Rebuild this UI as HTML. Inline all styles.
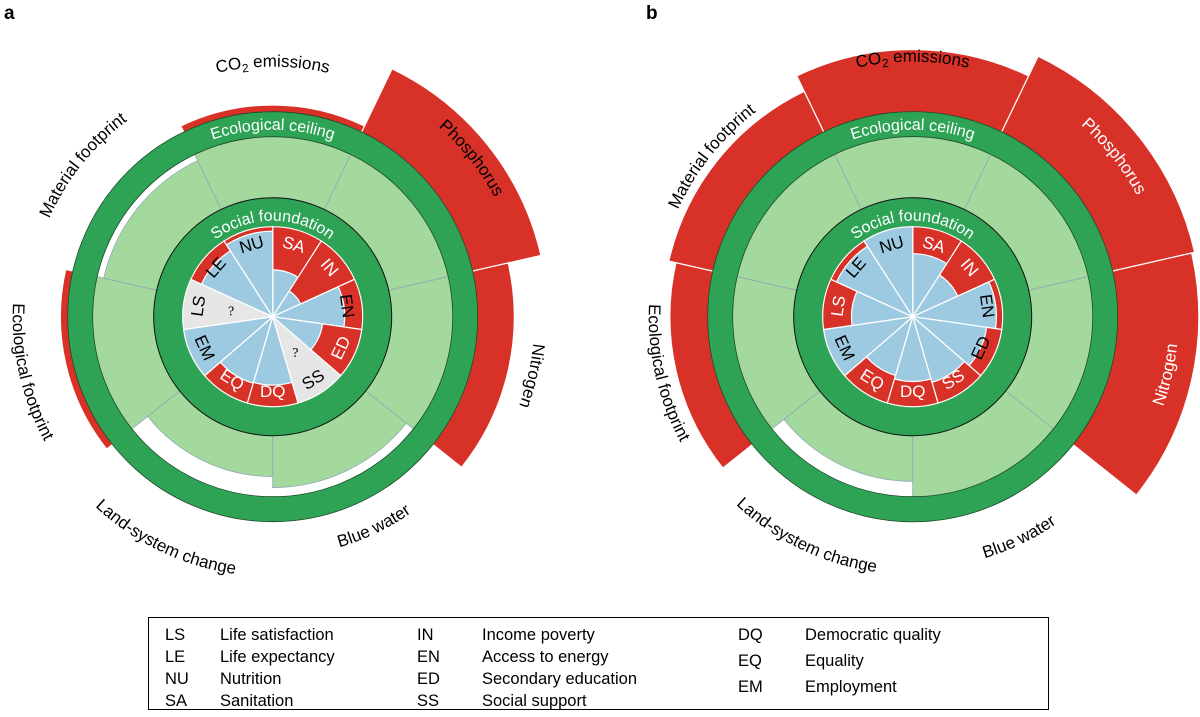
<!DOCTYPE html>
<html><head><meta charset="utf-8">
<style>
body{margin:0;background:#fff;}
svg{display:block;font-family:"Liberation Sans",Arial,sans-serif;}
</style></head>
<body>
<svg id="chart" width="1200" height="717" viewBox="0 0 1200 717" xmlns="http://www.w3.org/2000/svg">
<defs id="defs"></defs>
<text x="4" y="19" font-size="19" font-weight="bold">a</text>
<text x="646" y="19" font-size="19" font-weight="bold">b</text>
<g id="pa"></g>
<g id="pb"></g>
<g font-size="16.5">
<rect x="148.5" y="617.5" width="900" height="92" fill="#fff" stroke="#000" stroke-width="1"/>
<g><text x="165" y="640">LS</text><text x="220" y="640">Life satisfaction</text></g>
<g><text x="165" y="662">LE</text><text x="220" y="662">Life expectancy</text></g>
<g><text x="165" y="684">NU</text><text x="220" y="684">Nutrition</text></g>
<g><text x="165" y="706">SA</text><text x="220" y="706">Sanitation</text></g>
<g><text x="417" y="640">IN</text><text x="482" y="640">Income poverty</text></g>
<g><text x="417" y="662">EN</text><text x="482" y="662">Access to energy</text></g>
<g><text x="417" y="684">ED</text><text x="482" y="684">Secondary education</text></g>
<g><text x="417" y="706">SS</text><text x="482" y="706">Social support</text></g>
<g><text x="738" y="640">DQ</text><text x="805" y="640">Democratic quality</text></g>
<g><text x="738" y="666">EQ</text><text x="805" y="666">Equality</text></g>
<g><text x="738" y="692">EM</text><text x="805" y="692">Employment</text></g>
</g>
</svg>
<script>
// Social indicator categories (clockwise from top)
const socCats = ["SA","IN","EN","ED","SS","DQ","EQ","EM","LS","LE","NU"];
// Achievement relative to social foundation (1 = met, null = no data)
const socA = [0.52,0.34,0.80,0.56,null,0.76,0.77,1.0,null,0.87,0.95];
const socB = [0.70,0.55,0.93,0.83,0.76,0.72,0.68,1.0,0.68,0.93,1.0];
// Ecological indicators (clockwise from top), value relative to ceiling (1 = ceiling)
const ecoCats = ["CO2 emissions","Phosphorus","Nitrogen","Blue water","Land-system change","Ecological footprint","Material footprint"];
const ecoA = [1.11,2.15,1.6,0.85,0.67,1.12,0.89];
const ecoB = [2.02,2.38,2.33,1.0,0.75,1.62,1.74];

const NS="http://www.w3.org/2000/svg";
const R0=90,R1=119,R2=180,R3=205,K=61;
const RED="#d83228",DG="#2fa355",LG="#a3d99d",BL="#9ecae1",GR="#e6e6e6";
function rad(d){return d*Math.PI/180;}
function pt(cx,cy,r,a){return [cx+r*Math.sin(rad(a)),cy-r*Math.cos(rad(a))];}
function sector(cx,cy,ri,ro,a0,a1){
  const p1=pt(cx,cy,ro,a0),p2=pt(cx,cy,ro,a1),lg=(a1-a0)>180?1:0;
  let d=`M${p1[0]},${p1[1]} A${ro},${ro} 0 ${lg} 1 ${p2[0]},${p2[1]} `;
  if(ri<=0){d+=`L${cx},${cy} Z`;}else{
    const p3=pt(cx,cy,ri,a1),p4=pt(cx,cy,ri,a0);
    d+=`L${p3[0]},${p3[1]} A${ri},${ri} 0 ${lg} 0 ${p4[0]},${p4[1]} Z`;}
  return d;
}
function el(tag,attrs,parent){const e=document.createElementNS(NS,tag);for(const k in attrs)e.setAttribute(k,attrs[k]);parent.appendChild(e);return e;}
function ecoR(v){return v<=1?R1+v*(R2-R1):R3+(v-1)*K;}
let pid=0;
function arcPath(cx,cy,r,c,span,cw){
  const id="ap"+(pid++);
  let d;
  if(cw){const a=pt(cx,cy,r,c-span),b=pt(cx,cy,r,c+span);d=`M${a[0]},${a[1]} A${r},${r} 0 0 1 ${b[0]},${b[1]}`;}
  else{const a=pt(cx,cy,r,c+span),b=pt(cx,cy,r,c-span);d=`M${a[0]},${a[1]} A${r},${r} 0 0 0 ${b[0]},${b[1]}`;}
  el("path",{id:id,d:d,fill:"none"},document.getElementById("defs"));
  return id;
}
function curvedText(g,cx,cy,r,c,cw,txt,size,fill,name){
  const id=arcPath(cx,cy,r,c,70,cw);
  const t=el("text",{"font-size":size,fill:fill},g);
  
  
  const tp=el("textPath",{href:"#"+id,startOffset:"50%","text-anchor":"middle"},t);
  if(txt==="CO2 emissions"){
    tp.appendChild(document.createTextNode("CO"));
    const s=el("tspan",{dy:"4","font-size":size*0.7},tp);s.textContent="2";
    const s2=el("tspan",{dy:"-4"},tp);s2.textContent=" emissions";
  } else tp.textContent=txt;
}
function draw(gid,cx,cy,soc,eco,labelCfg){
  const g=document.getElementById(gid);
  const n=ecoCats.length,w=360/n;
  for(let i=0;i<n;i++){
    const a0=i*w-w/2,a1=i*w+w/2,v=eco[i];
    if(v>1){
      const p=el("path",{d:sector(cx,cy,R2,ecoR(v),a0,a1),fill:RED,stroke:"#fff","stroke-width":1.2},g);
      
      
    }
    const p2=el("path",{d:sector(cx,cy,R1,Math.min(ecoR(v),R2+2),a0,a1),fill:LG,stroke:"#8fa9b8","stroke-width":0.8},g);
    
    
  }
  const ring=el("path",{d:`M${cx-R3},${cy} a${R3},${R3} 0 1 0 ${2*R3},0 a${R3},${R3} 0 1 0 ${-2*R3},0 M${cx-R2},${cy} a${R2},${R2} 0 1 1 ${2*R2},0 a${R2},${R2} 0 1 1 ${-2*R2},0`,fill:DG,"fill-rule":"evenodd",stroke:"#1d4a2a","stroke-width":0.8},g);
  
  
  const ring2=el("path",{d:`M${cx-R1},${cy} a${R1},${R1} 0 1 0 ${2*R1},0 a${R1},${R1} 0 1 0 ${-2*R1},0 M${cx-R0},${cy} a${R0},${R0} 0 1 1 ${2*R0},0 a${R0},${R0} 0 1 1 ${-2*R0},0`,fill:DG,"fill-rule":"evenodd",stroke:"#111","stroke-width":1},g);
  
  
  const m=socCats.length,sw=360/m;
  for(let i=0;i<m;i++){
    const a0=i*sw,a1=(i+1)*sw,v=soc[i];
    if(v===null){
      const p=el("path",{d:sector(cx,cy,0,R0,a0,a1),fill:GR,stroke:"#fff","stroke-width":1.2},g);
      
      
      const q=pt(cx,cy,42,(a0+a1)/2);
      const t=el("text",{x:q[0],y:q[1]+5,"font-size":14,"text-anchor":"middle","font-family":"Liberation Serif, serif"},g);
      
      
      t.textContent="?";
    } else {
      const r=v*R0;
      const bg=el("path",{d:sector(cx,cy,0,R0,a0,a1),fill:RED,stroke:"#fff","stroke-width":1.2},g);
      
      
      const p=el("path",{d:sector(cx,cy,0,r,a0,a1),fill:BL,stroke:"#fff","stroke-width":1.2},g);
      
      
    }
    const c=(a0+a1)/2,q=pt(cx,cy,75,c);
    const rot=(c>90&&c<270)?c-180:c;
    const onRed=v!==null&&v<0.8;
    const t=el("text",{x:q[0],y:q[1],"font-size":17,"text-anchor":"middle","dominant-baseline":"central",fill:onRed?"#fff":"#000",transform:`rotate(${rot} ${q[0]} ${q[1]})`},g);
    
    
    t.textContent=socCats[i];
  }
  el("circle",{cx:cx,cy:cy,r:1.5,fill:"#fff"},g);
  curvedText(g,cx,cy,96,0,true,"Social foundation",16,"#fff","social-foundation-title");
  curvedText(g,cx,cy,187,0,true,"Ecological ceiling",16,"#fff","ecological-ceiling-title");
  for(let i=0;i<n;i++){
    const L=labelCfg[i];
    curvedText(g,cx,cy,L[0],i*w,L[1],ecoCats[i],17,L[2],"eco-label-"+i);
  }
}
// [radius, clockwise, color]
draw("pa",272.7,316.7,socA,ecoA,[[250,true,"#000"],[252,true,"#000"],[262,true,"#000"],[240,false,"#000"],[260,false,"#000"],[260,false,"#000"],[244,true,"#000"]]);
draw("pb",912.7,316.7,socB,ecoB,[[255,true,"#000"],[255,true,"#fff"],[266,false,"#fff"],[252,false,"#000"],[258,false,"#000"],[264,false,"#000"],[258,true,"#000"]]);
</script>
</body></html>
